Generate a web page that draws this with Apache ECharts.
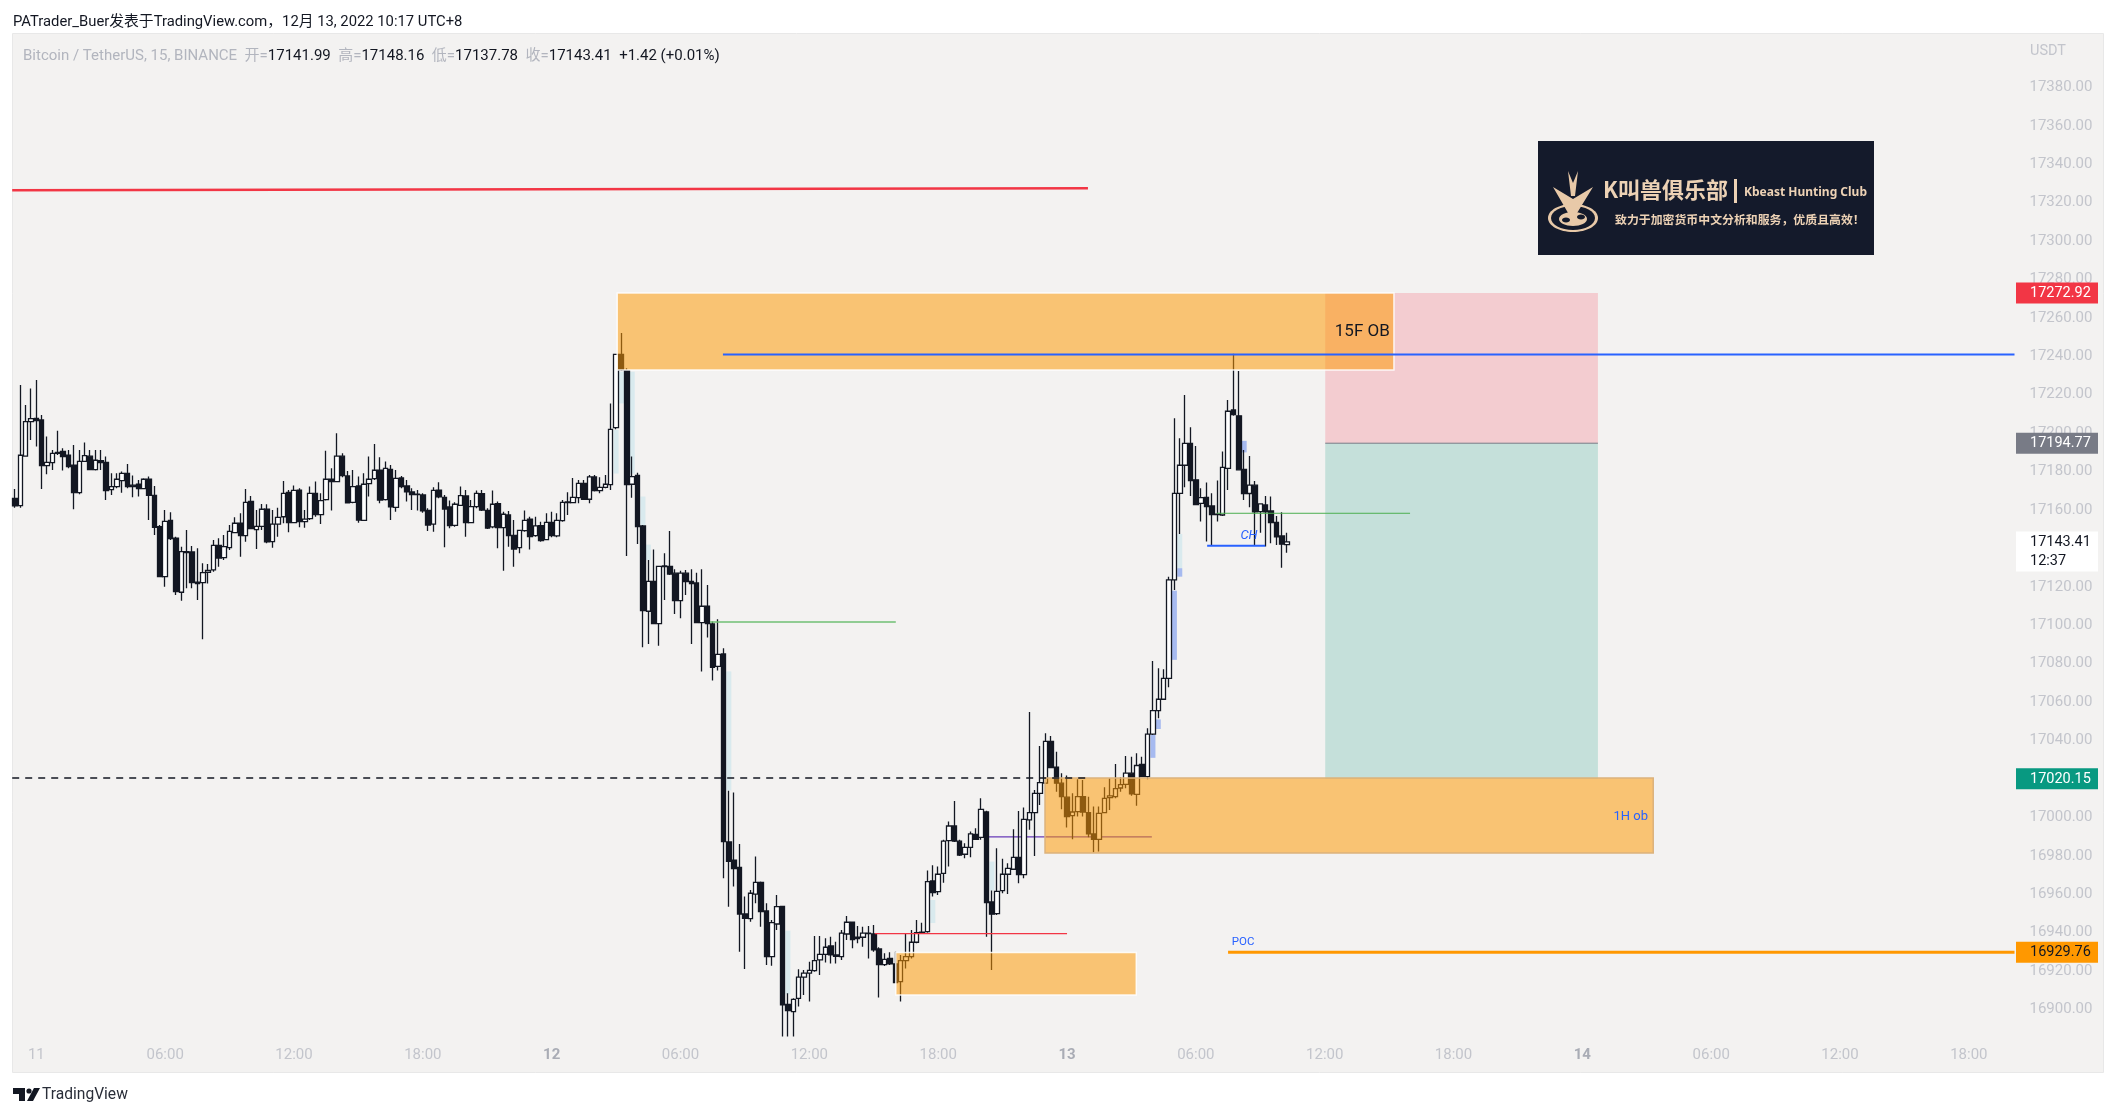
<!DOCTYPE html>
<html>
<head>
<meta charset="UTF-8"/>
<title>BTCUSDT 15</title>
<script src="https://cdn.jsdelivr.net/npm/echarts@6/dist/echarts.min.js"></script>
<style>
html,body{margin:0;padding:0;background:#fff;}
#main{width:2116px;height:1116px;}
</style>
</head>
<body>
<div id="main"></div>
<script>
// candles (15 min bars)
var opens=[
17166.1,17162.3,17188.0,17206.0,17207.7,17206.9,17183.1,17184.7,17189.5,17190.5,
17188.5,17183.3,17169.0,17185.3,17188.0,17181.0,17185.7,17184.8,17170.6,17172.2,
17175.3,17179.1,17172.9,17173.5,17171.1,17176.0,17167.6,17151.3,17125.3,17154.6,
17145.3,17117.2,17138.3,17138.2,17122.4,17122.2,17127.6,17128.8,17141.6,17135.2,
17140.4,17148.2,17153.1,17146.7,17164.5,17149.8,17151.5,17160.4,17143.5,17152.6,
17156.5,17169.2,17153.4,17170.4,17153.9,17155.5,17168.7,17157.6,17165.4,17176.0,
17174.8,17188.0,17177.7,17164.0,17172.5,17154.6,17173.7,17176.3,17180.7,17165.4,
17181.2,17161.4,17176.7,17172.5,17169.4,17168.3,17167.8,17159.8,17152.6,17170.4,
17166.6,17161.6,17152.0,17162.4,17167.3,17153.4,17161.8,17168.5,17159.8,17151.2,
17163.3,17150.8,17157.4,17146.8,17140.4,17149.3,17155.3,17146.7,17151.9,17144.6,
17153.6,17146.5,17154.5,17163.8,17163.8,17166.4,17173.9,17165.6,17177.2,17170.1,
17171.8,17173.2,17202.9,17241.0,17232.5,17173.4,17178.0,17151.7,17107.3,17122.9,
17100.9,17130.5,17130.7,17127.1,17112.8,17127.1,17122.9,17122.0,17101.4,17109.9,
17100.7,17078.6,17085.1,16987.2,16977.8,16974.0,16949.7,16947.3,16960.0,16966.2,
16951.3,16927.5,16944.5,16953.7,16902.7,16898.9,16905.8,16916.8,16918.9,16920.2,
16925.8,16928.7,16933.1,16928.4,16927.5,16939.3,16945.4,16937.6,16937.6,16939.5,
16939.3,16931.5,16923.4,16926.6,16923.7,16914.5,16925.4,16927.5,16935.0,16940.0,
16940.5,16966.9,16961.4,16970.9,16987.9,16995.5,16987.6,16980.8,16984.4,16991.2,
16989.6,17002.8,16956.0,16949.9,16961.9,16970.4,16973.0,16979.2,16970.2,16998.7,
17002.5,17012.5,17017.8,17039.6,17026.1,17017.8,17010.5,17000.9,17003.0,17010.8,
17002.5,16991.4,16988.6,17002.5,17010.3,17010.8,17015.3,17017.2,17023.0,17012.0,
17027.6,17021.2,17043.3,17055.6,17061.5,17072.4,17123.6,17168.7,17183.3,17194.7,
17175.7,17163.5,17166.6,17162.1,17157.6,17157.4,17181.7,17212.1,17209.0,17181.2,
17168.6,17172.9,17159.2,17162.6,17159.5,17153.6,17146.5,17141.99];
var closes=[
17162.1,17188.5,17206.0,17207.6,17206.5,17183.1,17184.8,17189.5,17190.0,17187.8,
17182.6,17169.0,17185.3,17188.3,17181.0,17185.9,17184.7,17170.1,17172.2,17176.0,
17179.1,17172.2,17172.2,17171.1,17176.0,17167.6,17151.0,17125.3,17154.1,17145.1,
17117.5,17138.3,17137.8,17122.2,17121.7,17127.4,17128.6,17141.6,17135.0,17140.9,
17148.9,17153.1,17146.7,17164.0,17150.3,17151.5,17160.4,17143.4,17152.6,17156.2,
17168.7,17153.4,17170.2,17153.9,17155.3,17168.7,17157.6,17164.9,17176.0,17174.8,
17188.0,17177.9,17163.7,17172.2,17154.8,17173.4,17176.0,17180.7,17165.2,17181.7,
17161.7,17176.5,17172.2,17169.4,17168.0,17168.0,17159.5,17152.2,17170.2,17166.9,
17160.5,17151.9,17163.0,17167.5,17153.4,17161.8,17168.7,17160.0,17150.6,17163.0,
17150.8,17157.8,17146.7,17139.7,17149.4,17154.6,17146.1,17151.7,17144.1,17153.6,
17146.7,17154.6,17164.0,17164.2,17166.6,17173.9,17165.6,17177.2,17170.1,17171.8,
17173.4,17202.0,17241.0,17232.9,17173.2,17177.4,17151.3,17107.6,17122.9,17100.9,
17130.7,17130.9,17126.7,17112.8,17127.1,17122.7,17121.7,17101.4,17109.9,17100.9,
17078.1,17084.9,16987.4,16977.1,16973.3,16949.7,16947.5,16960.5,16966.2,16950.9,
16927.5,16945.2,16953.5,16902.4,16899.4,16905.3,16916.8,16918.9,16920.4,16925.4,
16928.7,16932.4,16928.4,16927.7,16939.7,16945.4,16936.4,16936.9,16939.7,16939.7,
16931.0,16923.4,16926.1,16923.7,16914.0,16925.4,16927.5,16935.0,16940.0,16940.2,
16966.6,16960.8,16970.4,16987.6,16995.5,16987.6,16980.4,16984.4,16991.4,16988.6,
17004.2,16955.6,16949.6,16961.5,16970.4,16973.5,16979.2,16970.2,16999.0,17002.5,
17012.5,17018.1,17039.6,17025.9,17017.8,17010.8,17000.4,17002.8,17010.8,17002.8,
16991.4,16988.6,17002.1,17009.9,17011.2,17015.0,17017.1,17023.0,17012.2,17027.0,
17021.2,17043.3,17055.6,17061.5,17072.4,17123.6,17168.7,17183.3,17194.7,17175.3,
17162.8,17166.4,17161.8,17157.6,17157.9,17182.2,17211.4,17209.7,17180.9,17168.6,
17172.9,17159.0,17163.2,17159.0,17153.4,17146.0,17142.2,17143.41];
var highs=[
17170.9,17225.1,17214.7,17223.3,17227.7,17209.5,17198.2,17191.2,17201.3,17192.1,
17191.2,17193.8,17191.2,17195.1,17191.2,17191.2,17191.2,17187.8,17179.1,17179.1,
17180.0,17184.0,17177.9,17175.6,17176.5,17177.4,17172.5,17152.2,17160.0,17158.8,
17146.1,17140.9,17149.6,17141.3,17140.1,17132.3,17131.9,17144.4,17145.3,17147.0,
17152.2,17156.2,17158.3,17170.9,17167.3,17160.0,17163.1,17163.0,17160.0,17161.2,
17175.1,17170.4,17172.7,17171.3,17160.0,17172.2,17174.8,17168.7,17190.9,17181.7,
17199.9,17189.5,17180.3,17180.8,17177.4,17179.1,17187.8,17194.4,17187.4,17185.2,
17183.4,17180.8,17177.7,17175.6,17171.3,17170.4,17168.7,17160.9,17171.8,17174.4,
17167.8,17164.9,17164.0,17172.2,17170.4,17165.2,17170.1,17170.4,17160.9,17170.1,
17164.4,17159.1,17159.5,17154.8,17149.6,17159.7,17156.5,17156.5,17153.9,17158.3,
17159.1,17158.3,17165.2,17169.2,17176.7,17175.6,17175.6,17178.2,17178.2,17177.0,
17178.2,17215.5,17241.2,17252.1,17233.8,17187.8,17179.4,17152.2,17134.0,17139.5,
17130.9,17137.5,17149.1,17129.1,17128.4,17128.8,17129.1,17127.4,17129.1,17121.0,
17101.9,17103.1,17088.0,17013.8,17012.9,16986.2,16958.8,16962.2,16979.6,16966.6,
16955.3,16946.6,16959.6,16953.9,16908.4,16905.8,16920.9,16920.6,16924.9,16938.3,
16938.3,16937.1,16937.9,16935.3,16941.4,16948.7,16945.7,16943.5,16943.1,16943.5,
16944.0,16932.4,16929.3,16929.8,16930.1,16928.4,16939.7,16941.4,16946.6,16945.2,
16972.3,16975.1,16974.4,16988.3,16997.8,17008.5,16988.3,16986.5,16992.6,16994.3,
17009.9,17003.5,16961.9,16983.9,16978.4,16976.1,16993.8,17003.3,17005.1,17054.9,
17014.3,17037.2,17043.8,17042.4,17034.2,17023.0,17021.8,17012.5,17019.8,17019.5,
17010.8,17005.6,17005.6,17015.7,17020.4,17027.8,17020.9,17032.0,17031.6,17033.4,
17031.6,17046.4,17081.4,17077.6,17077.1,17125.3,17207.7,17197.3,17219.9,17203.1,
17193.3,17171.3,17174.3,17168.7,17175.3,17190.4,17217.3,17241.4,17232.4,17191.3,
17188.1,17175.1,17163.5,17167.3,17167.0,17156.9,17158.8,17148.16];
var lows=[
17161.2,17161.2,17187.8,17196.5,17193.0,17170.9,17178.6,17180.8,17188.6,17180.5,
17181.7,17160.4,17168.2,17185.2,17180.8,17180.5,17180.8,17165.2,17167.8,17171.3,
17169.0,17171.3,17166.6,17167.0,17170.8,17154.8,17147.0,17125.0,17120.1,17144.4,
17115.8,17112.8,17119.3,17119.3,17113.2,17092.7,17121.8,17127.9,17130.5,17134.0,
17139.2,17147.9,17135.7,17143.5,17150.0,17139.7,17149.6,17142.7,17140.4,17146.1,
17153.1,17148.4,17153.1,17151.0,17150.8,17154.8,17156.5,17152.7,17164.9,17159.7,
17174.4,17177.0,17163.5,17163.5,17153.4,17154.3,17167.0,17175.6,17163.5,17164.9,
17154.8,17159.1,17171.3,17164.4,17160.0,17159.7,17158.6,17149.1,17148.7,17166.1,
17140.6,17150.5,17151.3,17162.1,17146.1,17153.1,17160.9,17159.5,17150.1,17150.5,
17140.1,17128.4,17140.9,17130.5,17137.5,17148.7,17139.5,17146.1,17143.5,17144.4,
17145.8,17145.8,17153.9,17157.4,17163.5,17163.5,17165.2,17163.5,17169.6,17168.7,
17171.3,17170.4,17202.0,17232.5,17136.1,17166.4,17142.3,17088.5,17090.3,17100.5,
17089.4,17113.2,17126.2,17105.9,17103.6,17115.8,17090.3,17101.0,17075.9,17093.6,
17071.2,17076.4,16968.3,16953.5,16964.0,16930.1,16921.1,16945.7,16955.3,16943.1,
16923.2,16922.8,16941.4,16885.9,16885.9,16885.9,16901.5,16907.6,16904.1,16919.7,
16918.0,16924.4,16924.0,16924.0,16925.8,16936.2,16931.9,16934.5,16932.7,16926.6,
16930.1,16906.2,16922.7,16923.2,16913.6,16904.1,16921.4,16926.6,16934.5,16939.7,
16940.0,16958.8,16959.6,16966.0,16974.4,16987.2,16979.9,16978.7,16979.2,16988.3,
16988.3,16937.9,16920.6,16949.2,16960.5,16960.1,16972.6,16965.7,16968.3,16993.5,
16979.9,17006.5,17017.4,17025.6,17013.4,17004.2,16994.7,16988.6,17000.4,17000.4,
16989.7,16981.8,16982.2,17002.1,17003.9,17009.9,17013.4,17015.2,17011.2,17006.0,
17020.9,17019.8,17042.9,17051.6,17061.1,17067.7,17118.4,17147.5,17171.8,17167.3,
17162.6,17154.0,17143.6,17141.8,17154.0,17156.9,17170.4,17209.0,17180.5,17165.2,
17161.4,17141.5,17148.2,17141.0,17142.7,17141.8,17130.0,17137.78];

// axes
var priceTicks=[16900,16920,16940,16960,16980,17000,17020,17040,17060,17080,17100,17120,17140,17160,17180,17200,17220,17240,17260,17280,17300,17320,17340,17360,17380];
var timeLabels=['11','06:00','12:00','18:00','12','06:00','12:00','18:00','13','06:00','12:00','18:00','14','06:00','12:00','18:00'];
var dayLabels=['12','13','14'];
var barSlots=373, firstTimeBar=4, barsPerLabel=24;

// drawings: [bar from, bar to, price top, price bottom]
var riskZone=[[244.1,294.9,17272.92,17194.77]];
var rewardZone=[[244.1,294.9,17194.77,17020.15]];
var orderBlocks=[[112.2,256.9,17272.92,17232.9],[191.9,305.2,17020.5,16981.5],[164.1,208.9,16929.6,16907.5]];
// drawings: [bar from, bar to, price from, price to]
var levelLines=[
[-0.5,199.9,17326.5,17327.5],
[131.9,372.5,17240.9,17240.9],
[-0.5,199.9,17020.5,17020.5],
[129.5,164.1,17101.7,17101.7],
[223.9,259.9,17158.3,17158.3],
[160.2,196,16939.5,16939.5],
[226,372.5,16929.76,16929.76],
[222.1,232.9,17141.4,17141.4],
[244.1,294.9,17194.77,17194.77]];
var coveredLines=[[181.3,211.8,16989.8,16989.8]];
// [bar, price, text]
var notes=[[251,17253,'15F OB'],[301,17000.2,'1H ob'],[228.8,16935,'POC'],[229.9,17146.5,'CH']];
// faint strips beside candles: [bar, price top, price bottom]
var tealStrips=[[113,17232,17215.5],[115,17232,17179],[112,17201.7,17179],[117,17167,17152],[118,17142,17134],[133,17076,17014],[144,16941,16908],[171,16957,16945],[182,16977,16962],[217,17147.5,17129.7]];
var blueStrips=[[216,17118,17082],[213,17051,17046],[212,17043,17031],[229,17196,17190],[217,17129.7,17125.3]];
// price scale tags: [price, text]
var priceTags=[[17272.92,'17272.92'],[17194.77,'17194.77'],[17020.15,'17020.15'],[16929.76,'16929.76']];
var lastPrice=[17143.41,'17143.41','12:37'];

// header
var publishText='PATrader_Buer发表于TradingView.com，12月 13, 2022 10:17 UTC+8';
var symbolText='Bitcoin / TetherUS, 15, BINANCE';
var ohlcNames=['开','高','低','收'];
var ohlcValues=['17141.99','17148.16','17137.78','17143.41'];
var changeText='+1.42 (+0.01%)';

var UI_FONT='Roboto, "Noto Sans CJK SC", sans-serif';
var CJK_FONT='"Noto Sans CJK SC", sans-serif';
var AXIS_GREY='#c3c5cc', INK='#131722';
var GRID_LEFT=12.2, GRID_TOP=33, GRID_W=2002.3, GRID_H=1039;
var SCALE_LEFT=2016, SCALE_W=82;

var candleData=opens.map(function(o,i){return [o,closes[i],lows[i],highs[i]];});
var categories=[];
for(var c=0;c<barSlots;c++){categories.push(String(c));}

function labelFor(i){
	var k=i-firstTimeBar;
	if(k<0||k%barsPerLabel!==0){return null;}
	return timeLabels[k/barsPerLabel];
}

function zoneSeries(data,fill,strokes,z){
	return {
		type:'custom',xAxisIndex:1,yAxisIndex:0,z:z,silent:true,data:data,
		renderItem:function(params,api){
			var a=api.coord([api.value(0),api.value(2)]);
			var b=api.coord([api.value(1),api.value(3)]);
			var stroke=strokes?strokes[params.dataIndex]:null;
			return {type:'rect',shape:{x:a[0],y:a[1],width:b[0]-a[0],height:b[1]-a[1]},
				style:{fill:fill,stroke:stroke,lineWidth:stroke?1.5:0}};
		}
	};
}
function stripSeries(data,fill){
	return {
		type:'custom',xAxisIndex:1,yAxisIndex:0,z:1,silent:true,data:data,
		renderItem:function(params,api){
			var a=api.coord([api.value(0),api.value(1)]);
			var b=api.coord([api.value(0),api.value(2)]);
			return {type:'rect',shape:{x:a[0]-2.5,y:a[1],width:5,height:b[1]-a[1]},style:{fill:fill}};
		}
	};
}
function lineSeries(data,looks,z){
	return {
		type:'custom',xAxisIndex:1,yAxisIndex:0,z:z,silent:true,data:data,
		renderItem:function(params,api){
			var a=api.coord([api.value(0),api.value(2)]);
			var b=api.coord([api.value(1),api.value(3)]);
			var look=looks[params.dataIndex];
			return {type:'line',shape:{x1:a[0],y1:a[1],x2:b[0],y2:b[1]},
				style:{stroke:look.stroke,lineWidth:look.lineWidth,lineDash:look.lineDash||null}};
		}
	};
}

var lineLooks=[
	{stroke:'#f23645',lineWidth:2.5},
	{stroke:'#2962ff',lineWidth:2},
	{stroke:INK,lineWidth:1.5,lineDash:[7,6]},
	{stroke:'#6fbf73',lineWidth:1.6},
	{stroke:'#4caf50',lineWidth:1},
	{stroke:'#f23645',lineWidth:1.3},
	{stroke:'#ff9800',lineWidth:3},
	{stroke:'#2962ff',lineWidth:2},
	{stroke:'#787b86',lineWidth:1}
];
var coveredLooks=[{stroke:'#673ab7',lineWidth:1.3}];
var noteLooks=[
	{fill:INK,font:'17px '+UI_FONT},
	{fill:'#2962ff',font:'13px '+UI_FONT},
	{fill:'#2962ff',font:'11.5px '+UI_FONT},
	{fill:'#2962ff',font:'italic 13px '+UI_FONT}
];
var tagLooks=[
	{bg:'#f23645',fg:'#fff'},
	{bg:'#787b86',fg:'#fff'},
	{bg:'#089981',fg:'#fff'},
	{bg:'#ff9800',fg:INK}
];

function headerRich(){
	var s='{g|'+symbolText+'}';
	ohlcNames.forEach(function(n,i){
		s+='{g|  '+n+'=}{v|'+ohlcValues[i]+'}';
	});
	return s+'{v|  '+changeText+'}';
}

var myChart=echarts.init(document.getElementById('main'));
var option={
	animation:false,
	backgroundColor:'#ffffff',
	title:[
		{text:publishText,left:8,top:10,textStyle:{color:INK,fontFamily:UI_FONT,fontWeight:'normal',fontSize:14.8}},
		{text:headerRich(),left:18,top:44,textStyle:{rich:{
			g:{color:'#b2b5be',fontFamily:UI_FONT,fontWeight:'normal',fontSize:15},
			v:{color:INK,fontFamily:UI_FONT,fontWeight:'normal',fontSize:15}
		}}}
	],
	grid:{left:GRID_LEFT,top:GRID_TOP,width:GRID_W,height:GRID_H,containLabel:false},
	xAxis:[
		{
			type:'category',data:categories,boundaryGap:true,
			axisLine:{show:false},axisTick:{show:false},splitLine:{show:false},
			axisLabel:{
				inside:true,margin:9,color:AXIS_GREY,fontFamily:UI_FONT,fontSize:15,
				interval:function(i){return labelFor(i)!==null;},
				formatter:function(v,i){
					var t=labelFor(i);
					if(t===null){return '';}
					return dayLabels.indexOf(t)>=0?'{d|'+t+'}':t;
				},
				rich:{d:{color:'#a9acb5',fontFamily:UI_FONT,fontSize:15,fontWeight:'bold'}}
			}
		},
		{type:'value',show:false,min:-0.5,max:barSlots-0.5,splitLine:{show:false}}
	],
	yAxis:[{
		type:'value',position:'right',scale:true,
		min:16867.46,max:17408.3,
		axisLine:{show:false},splitLine:{show:false},
		axisTick:{show:false},
		axisLabel:{
			customValues:priceTicks,margin:15,color:AXIS_GREY,fontFamily:UI_FONT,fontSize:15,padding:[4,0,0,0],
			formatter:function(v){return v.toFixed(2);}
		}
	}],
	graphic:{elements:[
		{type:'rect',z:-10,shape:{x:12.5,y:33.5,width:2091,height:1039},style:{fill:'#f3f2f1',stroke:'#e8e8e8',lineWidth:1}},
		{type:'text',z:-5,style:{x:2030,y:51,text:'USDT',fill:AXIS_GREY,font:'14.5px '+UI_FONT,textVerticalAlign:'middle'}},
		// club banner
		{type:'rect',z:10,shape:{x:1538,y:141,width:336,height:114},style:{fill:'#141a2b'}},
		{type:'ellipse',z:11,shape:{cx:1573,cy:218,rx:25,ry:14},style:{fill:'#e8c9a8'}},
		{type:'ellipse',z:11,shape:{cx:1573,cy:218,rx:22,ry:12},style:{fill:'#141a2b'}},
		{type:'ellipse',z:11,shape:{cx:1573,cy:219,rx:14,ry:7},style:{fill:'#e8c9a8'}},
		{type:'ellipse',z:11,shape:{cx:1566,cy:220,rx:4,ry:2.5},style:{fill:'#141a2b'}},
		{type:'ellipse',z:11,shape:{cx:1581,cy:217,rx:4,ry:2.5},style:{fill:'#141a2b'}},
		{type:'polygon',z:11,shape:{points:[[1553,187],[1573,199],[1593,187],[1574,218],[1571,218]]},style:{fill:'#e8c9a8'}},
		{type:'polygon',z:11,shape:{points:[[1568,171],[1573,183],[1578,171],[1575,196],[1571,196]]},style:{fill:'#e8c9a8'}},
		{type:'text',z:11,style:{x:1603,y:190,text:'K叫兽俱乐部',fill:'#edd2b5',font:'bold 22px '+CJK_FONT,textVerticalAlign:'middle'}},
		{type:'rect',z:11,shape:{x:1734,y:179,width:3,height:24},style:{fill:'#edd2b5'}},
		{type:'text',z:11,style:{x:1744,y:193,text:'Kbeast Hunting Club',fill:'#edd2b5',font:'bold 12px "Noto Sans", sans-serif',textVerticalAlign:'middle'}},
		{type:'text',z:11,style:{x:1615,y:219,text:'致力于加密货币中文分析和服务，优质且高效！',fill:'#edd2b5',font:'bold 11.9px '+CJK_FONT,textVerticalAlign:'middle'}},
		// TradingView mark
		{type:'polygon',z:11,shape:{points:[[13,1088],[25,1088],[25,1101],[19,1101],[19,1094],[13,1094]]},style:{fill:INK}},
		{type:'circle',z:11,shape:{cx:29,cy:1091,r:2.6},style:{fill:INK}},
		{type:'polygon',z:11,shape:{points:[[34,1088],[40,1088],[33,1101],[27,1101]]},style:{fill:INK}},
		{type:'text',z:11,style:{x:42,y:1095,text:'TradingView',fill:'#2a2e39',font:'15.6px '+UI_FONT,textVerticalAlign:'middle'}}
	]},
	series:[
		stripSeries(tealStrips,'rgba(178,223,235,0.4)'),
		stripSeries(blueStrips,'rgba(90,130,240,0.5)'),
		zoneSeries(riskZone,'#f3ccd0',null,1),
		zoneSeries(rewardZone,'#c5e0da',null,1),
		lineSeries(coveredLines,coveredLooks,2),
		{
			type:'candlestick',xAxisIndex:0,yAxisIndex:0,z:3,silent:true,
			data:candleData,barWidth:5,
			itemStyle:{color:'#ffffff',color0:INK,borderColor:INK,borderColor0:INK,borderWidth:1.3}
		},
		zoneSeries(orderBlocks,'rgba(255,152,0,0.52)',['rgba(255,255,255,0.85)','#dcb27c','rgba(255,255,255,0.85)'],4),
		lineSeries(levelLines,lineLooks,5),
		{
			type:'custom',xAxisIndex:1,yAxisIndex:0,z:6,silent:true,data:notes,
			renderItem:function(params,api){
				var p=api.coord([api.value(0),api.value(1)]);
				var look=noteLooks[params.dataIndex];
				return {type:'text',style:{x:p[0],y:p[1],text:notes[params.dataIndex][2],fill:look.fill,font:look.font,
					textAlign:'center',textVerticalAlign:'middle'}};
			}
		},
		{
			type:'custom',xAxisIndex:1,yAxisIndex:0,z:7,silent:true,data:priceTags,
			renderItem:function(params,api){
				var y=api.coord([0,api.value(0)])[1];
				var look=tagLooks[params.dataIndex];
				return {type:'group',children:[
					{type:'rect',shape:{x:SCALE_LEFT,y:y-10.5,width:SCALE_W,height:21},style:{fill:look.bg}},
					{type:'text',style:{x:SCALE_LEFT+14,y:y+0.5,text:priceTags[params.dataIndex][1],fill:look.fg,font:'14.5px '+UI_FONT,textVerticalAlign:'middle'}}
				]};
			}
		},
		{
			type:'custom',xAxisIndex:1,yAxisIndex:0,z:7,silent:true,data:[lastPrice],
			renderItem:function(params,api){
				var y=api.coord([0,api.value(0)])[1];
				return {type:'group',children:[
					{type:'rect',shape:{x:SCALE_LEFT,y:y-10.5,width:SCALE_W,height:40},style:{fill:'#ffffff'}},
					{type:'text',style:{x:SCALE_LEFT+14,y:y+0.5,text:lastPrice[1],fill:INK,font:'14.5px '+UI_FONT,textVerticalAlign:'middle'}},
					{type:'text',style:{x:SCALE_LEFT+14,y:y+19.5,text:lastPrice[2],fill:INK,font:'14.5px '+UI_FONT,textVerticalAlign:'middle'}}
				]};
			}
		}
	]
};
myChart.setOption(option);
</script>
</body>
</html>
